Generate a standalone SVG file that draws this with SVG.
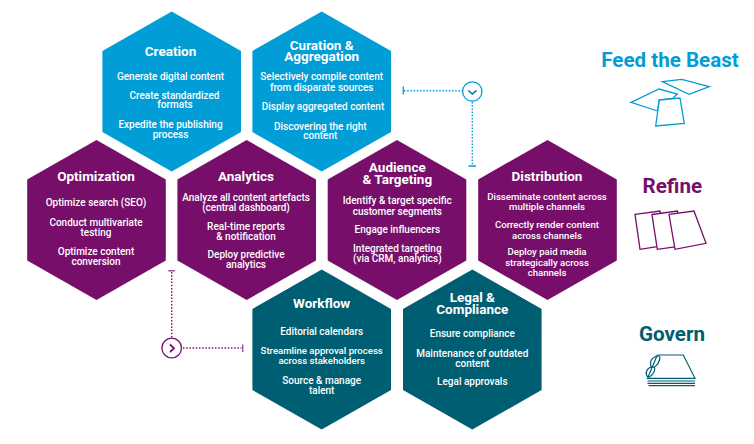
<svg xmlns="http://www.w3.org/2000/svg" width="754" height="444" viewBox="0 0 754 444">
<style>
text{font-family:Roboto,"Liberation Sans",sans-serif;text-anchor:middle}
.t{font-size:13.500px;font-weight:700;fill:#fff}
.b{font-size:10px;font-weight:500;fill:#fff}
.n{font-size:9.600px}
.blue{fill:#009dd6}.pur{fill:#770e6a}.teal{fill:#005e72}
.h{font-size:20.600px;font-weight:700}
.ib{fill:#fff;stroke:#009dd6;stroke-width:1.3}
.ip{fill:#fff;stroke:#770e6a;stroke-width:1.3}
.it{fill:none;stroke:#005e72;stroke-width:1.2}
.cb{fill:none;stroke:#009dd6;stroke-width:1.4;stroke-dasharray:1.5 1.7}
.cp{fill:none;stroke:#770e6a;stroke-width:1.4;stroke-dasharray:1.5 1.7}
</style>
<defs><polygon id="hex" points="0,-80 69.300,-40.500 69.300,40.500 0,80 -69.300,40.500 -69.300,-40.500"/></defs>
<g id="connectors">
<path class="cb" d="M404 90.700H462M472.300 102V165"/>
<path style="fill:none;stroke:#009dd6;stroke-width:1.3" d="M403.300 86.500V94.500M468.500 166H476"/>
<circle cx="472.300" cy="91.500" r="9.700" fill="#fff" stroke="#009dd6" stroke-width="1.3"/>
<path d="M468.300 90.500L472.300 94L476.500 90.500" fill="none" stroke="#00709f" stroke-width="1.6"/>
<path class="cp" d="M171.700 272V337.500M183 348H241.500"/>
<path style="fill:none;stroke:#a04f98;stroke-width:1.4" d="M168.300 270.700H175M242.700 344.500V352"/>
<circle cx="171.700" cy="348" r="9.800" fill="#fff" stroke="#770e6a" stroke-width="1.3"/>
<path d="M170 344.500L174 348.300L170 352" fill="none" stroke="#770e6a" stroke-width="1.8"/>
</g>
<g id="creation"><use href="#hex" x="171.700" y="91.500" class="blue"/>
<text class="t" x="170.500" y="55.700">Creation</text>
<text class="b" x="170.500" y="79.700">Generate digital content</text>
<text class="b" x="174.500" y="98.700">Create standardized</text><text class="b" x="175" y="108">formats</text>
<text class="b" x="170.500" y="128">Expedite the publishing</text><text class="b" x="170.500" y="137.700">process</text></g>
<g id="curation"><use href="#hex" x="321.700" y="91.500" class="blue"/>
<text class="t" x="321.700" y="49.700">Curation &amp;</text><text class="t" x="321.700" y="60.500">Aggregation</text>
<text class="b" x="321.700" y="79.700">Selectively compile content</text><text class="b" x="321.700" y="90.500">from disparate sources</text>
<text class="b" x="323" y="109.700">Display aggregated content</text>
<text class="b" x="320.300" y="130">Discovering the right</text><text class="b" x="320.300" y="139.300">content</text></g>
<g id="optimization"><use href="#hex" x="96.500" y="220" class="pur"/>
<text class="t" x="96" y="180.700">Optimization</text>
<text class="b" x="96" y="205.700">Optimize search (SEO)</text>
<text class="b" x="96" y="225.700">Conduct multivariate</text><text class="b" x="96" y="235.700">testing</text>
<text class="b" x="96" y="255">Optimize content</text><text class="b" x="96" y="264.700">conversion</text></g>
<g id="analytics"><use href="#hex" x="246.700" y="220" class="pur"/>
<text class="t" x="246" y="180.700">Analytics</text>
<text class="b" x="246" y="201">Analyze all content artefacts</text><text class="b" x="246" y="211.300">(central dashboard)</text>
<text class="b" x="246" y="229.700">Real-time reports</text><text class="b" x="246" y="239.700">&amp; notification</text>
<text class="b" x="246" y="257.700">Deploy predictive</text><text class="b" x="246" y="267.700">analytics</text></g>
<g id="audience"><use href="#hex" x="397" y="220" class="pur"/>
<text class="t" x="397.300" y="171.700">Audience</text><text class="t" x="397.300" y="183.700">&amp; Targeting</text>
<text class="b" x="397.300" y="204">Identify &amp; target specific</text><text class="b" x="397.300" y="215">customer segments</text>
<text class="b" x="397.300" y="232.700">Engage influencers</text>
<text class="b" x="397.300" y="251.700">Integrated targeting</text><text class="b" x="397.300" y="261.700">(via CRM, analytics)</text></g>
<g id="distribution"><use href="#hex" x="547.500" y="220" class="pur"/>
<text class="t" x="547" y="180.700">Distribution</text>
<text class="b n" x="547" y="200">Disseminate content across</text><text class="b n" x="547" y="210">multiple channels</text>
<text class="b n" x="547" y="228">Correctly render content</text><text class="b n" x="547" y="238.700">across channels</text>
<text class="b n" x="547" y="255">Deploy paid media</text><text class="b n" x="547" y="266">strategically across</text><text class="b n" x="547" y="275.700">channels</text></g>
<g id="workflow"><use href="#hex" x="321.700" y="349.500" class="teal"/>
<text class="t" x="321.700" y="308.300">Workflow</text>
<text class="b" x="321.700" y="334.700">Editorial calendars</text>
<text class="b n" x="321.700" y="354">Streamline approval process</text><text class="b n" x="321.700" y="364">across stakeholders</text>
<text class="b" x="321.700" y="384">Source &amp; manage</text><text class="b" x="321.700" y="393.700">talent</text></g>
<g id="legal"><use href="#hex" x="472.300" y="349.500" class="teal"/>
<text class="t" x="472.300" y="301.700">Legal &amp;</text><text class="t" x="472.300" y="313.700">Compliance</text>
<text class="b" x="472.300" y="336.700">Ensure compliance</text>
<text class="b" x="472.300" y="356.700">Maintenance of outdated</text><text class="b" x="472.300" y="366.700">content</text>
<text class="b" x="472.300" y="384.700">Legal approvals</text></g>
<g id="feed-the-beast">
<text class="h" x="670" y="67" style="fill:#009dd6">Feed the Beast</text>
<polygon class="ib" points="662.300,81.700 681.700,79.300 709.300,86.700 689,94.300"/>
<polygon class="ib" points="631,102.300 659,89 677.300,94 672.700,98.300 659,100 657.700,111"/>
<polygon class="ib" points="659.300,100 680,98 684.300,123.300 655.700,126"/>
</g>
<g id="refine">
<text class="h" x="672.300" y="192.700" style="fill:#770e6a">Refine</text>
<polygon class="ip" points="635,214.300 660,211 668,245 640,249.300"/>
<polygon class="ip" points="652,214.500 677.300,211 689,245 657.300,249.300"/>
<polygon class="ip" points="669,214.300 694,211 706,243.300 675,249.300"/>
</g>
<g id="govern">
<text class="h" x="672" y="340.700" style="fill:#005e72">Govern</text>
<path class="it" d="M657.300 355H683.300L695 378.300H647.500L657.300 355M647.500 381H695M647.500 383.300H695M648.500 385.700H695"/>
<path class="it" d="M659 356C653 356 649 361 651 366C653 369 658 366 659.500 360C660 358 660 356 659 356M654 367C649 366 645 371 646.500 375C648 379 652 376 654 372C655 370 655 367 654 367"/>
</g>
</svg>
